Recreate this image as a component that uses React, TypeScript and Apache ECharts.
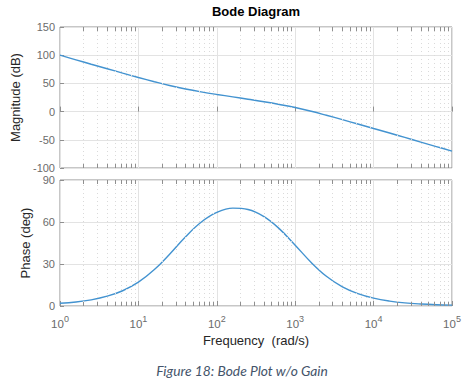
import React, { useEffect, useRef } from "react";
import * as echarts from "echarts";

// Frequency samples (rad/s), evenly spread on the log axis
const freq = [1, 1.6, 2.5, 4, 6.3, 10, 16, 25, 40, 63, 100, 160, 250, 400, 630, 1000, 1600, 2500, 4000, 6300, 10000, 16000, 25000, 40000, 63000, 100000];
// Magnitude (dB)
const magnitudeDb = [100, 91.8, 84, 76, 68.2, 60.4, 52.9, 46.2, 40.1, 35, 30.4, 26.1, 21.9, 17.4, 12.6, 7.2, 0.6, -6.5, -14.3, -22, -30, -38, -45.8, -54, -62, -70];
// Phase (deg)
const phaseDeg = [2, 2.9, 4.4, 7, 10.9, 17, 26, 37, 49.5, 59.8, 66.8, 69.9, 68.9, 63.8, 55.1, 43.4, 31.1, 21.2, 13.6, 8.8, 5.6, 3.5, 2.2, 1.4, 0.9, 0.6];

const magTicks = { min: -100, max: 150, interval: 50 };
const phaseTicks = { min: 0, max: 90, interval: 30 };
const decades = [1, 10, 100, 1000, 10000];
const minorSteps = [2, 3, 4, 5, 6, 7, 8, 9];

const FONT = "Liberation Sans, Arial, Helvetica, sans-serif";

export default function App() {
  const ref = useRef<HTMLDivElement>(null);
  useEffect(() => {
    if (!ref.current) return;
    const chart = echarts.init(ref.current, undefined, { renderer: "svg" });
    const minorValues = decades.flatMap((d) => minorSteps.map((m) => d * m));
    const lineColor = "#4393d0";
    const boxColor = "#8f8f8f";
    const labelColor = "#6b6b6b";
    const gridLine = "#e3e3e3";
    // tick length: 4 px expressed in each axis' units
    const makeMarkLine = (t: { min: number; max: number }, plotHeight: number) => {
      const tickLen = ((t.max - t.min) / plotHeight) * 4;
      const grid = minorValues.map((v) => ({ xAxis: v }));
      const ticks = minorValues.flatMap((v) => [
        [{ coord: [v, t.min], lineStyle: { type: "solid", color: boxColor } }, { coord: [v, t.min + tickLen] }],
        [{ coord: [v, t.max], lineStyle: { type: "solid", color: boxColor } }, { coord: [v, t.max - tickLen] }],
      ]);
      return {
        silent: true,
        symbol: ["none", "none"],
        label: { show: false },
        lineStyle: { type: [1, 3], color: "#dadada", width: 1 },
        emphasis: { disabled: true },
        data: [...grid, ...ticks],
      };
    };
    const xBase = (gridIndex: number, showLabels: boolean) => ({
      type: "log",
      logBase: 10,
      gridIndex,
      min: 1,
      max: 100000,
      axisLine: { show: false },
      axisTick: { show: true, inside: true, length: 5, lineStyle: { color: boxColor } },
      splitLine: { show: true, lineStyle: { color: gridLine, width: 1 } },
      axisLabel: {
        show: showLabels,
        color: labelColor,
        fontFamily: FONT,
        fontSize: 11,
        margin: 8,
        formatter: (v: number) => "{b|10}{s|" + Math.round(Math.log10(v)) + "}",
        rich: {
          b: { fontSize: 11.5, color: labelColor, fontFamily: FONT, padding: [4, 0, 0, 0], verticalAlign: "bottom" },
          s: { fontSize: 9, color: labelColor, fontFamily: FONT, verticalAlign: "top" },
        },
      },
    });
    const yBase = (gridIndex: number, t: { min: number; max: number; interval: number }, name: string, gap: number) => ({
      type: "value",
      gridIndex,
      min: t.min,
      max: t.max,
      interval: t.interval,
      name,
      nameLocation: "middle",
      nameGap: gap,
      nameTextStyle: { color: "#262626", fontFamily: FONT, fontSize: 13 },
      axisLine: { show: false },
      axisTick: { show: true, inside: true, length: 4, lineStyle: { color: boxColor } },
      splitLine: { show: true, lineStyle: { color: gridLine, width: 1 } },
      axisLabel: { color: labelColor, fontFamily: FONT, fontSize: 11, margin: 5 },
    });
    chart.setOption({
      animation: false,
      backgroundColor: "#ffffff",
      grid: [
        { left: 60, top: 27, width: 392, height: 141, show: true, borderColor: boxColor, borderWidth: 1, containLabel: false },
        { left: 60, top: 180, width: 392, height: 126, show: true, borderColor: boxColor, borderWidth: 1, containLabel: false },
      ],
      xAxis: [xBase(0, false), xBase(1, true)],
      yAxis: [yBase(0, magTicks, "Magnitude (dB)", 31), yBase(1, phaseTicks, "Phase (deg)", 26)],
      series: [
        {
          type: "line",
          xAxisIndex: 0,
          yAxisIndex: 0,
          data: freq.map((f, i) => [f, magnitudeDb[i]]),
          smooth: 0.4,
          showSymbol: false,
          lineStyle: { color: lineColor, width: 1.4 },
          markLine: makeMarkLine(magTicks, 141),
        },
        {
          type: "line",
          xAxisIndex: 1,
          yAxisIndex: 1,
          data: freq.map((f, i) => [f, phaseDeg[i]]),
          smooth: 0.4,
          showSymbol: false,
          lineStyle: { color: lineColor, width: 1.4 },
          markLine: makeMarkLine(phaseTicks, 126),
        },
      ],
      graphic: [
        {
          type: "text",
          x: 256,
          y: 11,
          style: { text: "Bode Diagram", font: `bold 13px ${FONT}`, fill: "#000000", align: "center", verticalAlign: "middle" },
        },
        {
          type: "text",
          x: 256,
          y: 340,
          style: { text: "Frequency  (rad/s)", font: `13px ${FONT}`, fill: "#262626", align: "center", verticalAlign: "middle" },
        },
        {
          type: "text",
          x: 242,
          y: 370,
          style: { text: "Figure 18: Bode Plot w/o Gain", font: `italic 13.8px Lato, "Open Sans", sans-serif`, fill: "#44546a", align: "center", verticalAlign: "middle" },
        },
      ],
    });
    return () => chart.dispose();
  }, []);
  return <div ref={ref} style={{ position: "fixed", left: 0, top: 0, width: 474, height: 385, background: "#fff" }} />;
}
